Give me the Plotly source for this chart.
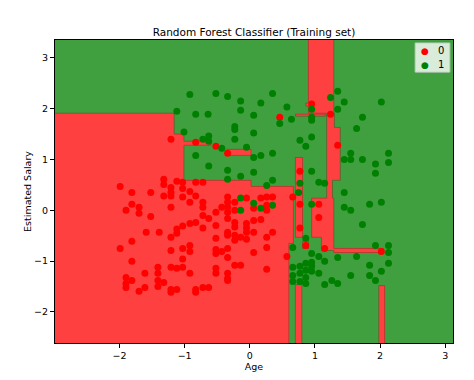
import plotly.graph_objects as go

# ---- axis limits (scaled Age / Estimated Salary) ----
x_min, x_max = -2.99, 3.12
y_min, y_max = -2.61, 3.35

# ---- decision regions predicted as class 0 (red); everything else is class 1 ----
red_x0 = [-2.99, -1.16, -1.01, -1.01, 0.02, 0.60, -0.35, 0.90, 0.86, 0.70, 1.18, 1.18, 1.18, 0.95, 1.10, 1.29, 0.70, 0.81, 0.70, 1.98]
red_x1 = [-1.16, -1.01, -0.60, 0.02, 0.60, 0.67, 0.02, 1.29, 1.16, 1.16, 1.30, 1.39, 1.27, 1.29, 1.29, 2.05, 0.81, 0.90, 0.80, 2.07]
red_y0 = [-2.61, -2.61, 1.28, -2.61, -2.61, -0.65, 1.08, 1.91, 2.05, 1.85, 1.63, 0.59, 0.24, -0.53, -0.79, -0.83, -0.53, -0.75, -2.61, -2.61]
red_y1 = [1.91, 1.50, 1.36, 0.59, 0.47, 0.47, 1.20, 3.35, 2.11, 1.89, 1.91, 1.63, 0.59, 0.24, -0.53, -0.75, 1.04, -0.61, -1.46, -1.48]

# ---- training points ----
green_x = [-0.92, -1.12, -0.83, -0.64, -1.01, -0.72, -0.63, -0.63, -0.83, -0.52, -0.34, 0.35, -0.14, 0.17, 0.57,
           -0.14, 0.06, 0.46, 0.64, -0.23, -0.23, 0.06, -0.23, 0.77, -0.43, -0.05, 0.17, 0.06, 0.35, 1.35,
           1.24, 1.45, 2.02, 0.95, 1.35, 0.95, 0.95, 1.73, 1.64, 0.95, 0.86, 1.55, 2.13, 1.45, 1.55,
           1.73, -0.63, -0.34, -0.34, -0.14, 0.06, 0.35, 0.26, 0.75, -0.14, -0.14, 0.06, 0.17, 0.35,
           1.93, 2.13, 1.93, 0.95, 1.06, 1.15, 0.77, 1.45, 2.02, 1.84, 0.95, 1.45, 1.55, 1.73, 0.66,
           0.66, 0.66, 0.66, 0.77, 0.77, 0.86, 0.95, 1.06, 1.15, 1.35, 1.64, 1.93, 2.13, 2.13, 0.77,
           0.86, 0.95, 0.95, 0.86, 0.95, 1.06, 0.86, 0.86, 1.15, 1.26, 1.35, 1.55, 1.84, 2.02, 2.13,
           1.84, 1.93]
green_y = [2.28, 1.95, 1.89, 1.89, 1.54, 1.40, 1.46, 1.36, 1.08, 2.30, 2.24, 2.30, 2.15, 2.11, 2.03,
           1.97, 1.87, 1.71, 1.79, 1.65, 1.59, 1.52, 1.40, 1.38, 1.22, 1.24, 1.08, 1.04, 1.12, 2.34,
           2.22, 2.13, 2.13, 1.99, 1.99, 1.83, 1.77, 1.83, 1.61, 1.44, 1.26, 1.12, 1.12, 1.00, 1.00,
           1.00, 0.87, 0.79, 0.61, 0.67, 0.75, 0.59, 0.49, 0.35, 0.24, 0.00, 0.14, 0.04, 0.10,
           0.91, 0.94, 0.73, 0.77, 0.55, 0.53, 0.53, 0.35, 0.16, 0.12, 0.12, 0.06, 0.00, -0.28, -0.73,
           -1.12, -1.28, -1.40, -1.24, -1.40, -0.55, -0.85, -0.91, -1.00, -0.93, -0.91, -0.69, -0.69, -0.83, -1.10,
           -1.04, -1.02, -1.10, -1.18, -1.20, -1.24, -1.32, -1.44, -1.46, -1.38, -1.44, -1.28, -1.08, -1.20, -1.04,
           -1.28, -1.38]

red_x = [-1.21, -0.83, 0.46, -0.52, -0.34, 0.95, 1.24, 1.35, -1.99, -1.81, -1.52, -1.32, -1.32, -1.12, -1.21,
         -1.21, -1.21, -1.32, -1.03, -1.03, -0.92, -0.83, -0.72, -0.83, -1.03, -0.92, -0.72, -0.72, -0.72, -1.81,
         -1.70, -1.90, -1.70, -1.21, -1.52, -0.92, -0.83, -1.03, -1.12, -0.72, -1.59, -1.39, -1.12, 0.66, -0.34,
         -0.34, -0.34, -0.34, -0.43, -0.52, -0.23, -0.23, -0.05, 0.06, 0.17, 0.26, 0.35, 0.26, 0.26, -0.63,
         -0.52, -0.34, -0.23, -0.23, -0.05, -0.05, 0.06, 0.06, 0.17, 0.35, 0.77, 0.77, 0.77, 1.06, 1.06,
         -1.21, -1.81, -1.99, -1.21, -1.03, -0.92, -0.92, -1.81, -1.03, -1.41, -1.21, -1.12, -1.03, -0.92, -1.61,
         -1.41, -1.90, -1.81, -1.41, -1.32, -1.90, -1.90, -1.41, -1.61, -1.70, -1.21, -1.21, -1.12, -0.83, -0.83,
         -0.72, -0.63, -0.34, -0.23, -0.34, -0.23, -0.14, -0.05, -0.05, 0.26, -0.52, -0.52, -0.52, -0.43, -0.34,
         -0.34, 0.06, 0.26, 0.57, -0.23, -0.14, 0.26, -0.52, -0.52, -0.34, -0.34, -0.34, 0.86, 1.15, 2.02]
red_y = [1.40, 1.34, 1.83, 1.26, 1.12, 2.09, 1.89, 1.28, 0.47, 0.35, 0.35, 0.61, 0.51, 0.57, 0.45,
         0.35, 0.28, 0.28, 0.55, 0.43, 0.37, 0.55, 0.55, 0.28, 0.26, 0.16, 0.16, 0.06, -0.10, 0.12,
         0.06, 0.00, -0.06, 0.06, -0.12, -0.26, -0.24, -0.31, -0.37, -0.35, -0.43, -0.43, -0.45, 0.26, 0.26,
         0.16, 0.06, -0.04, 0.06, -0.04, 0.16, 0.00, 0.24, 0.04, 0.24, 0.26, 0.26, 0.10, 0.00, -0.16,
         -0.30, -0.16, -0.24, -0.33, -0.26, -0.35, -0.20, -0.43, -0.18, -0.43, -0.35, 0.77, 0.12, 0.12, -0.14,
         -0.53, -0.61, -0.75, -0.79, -0.75, -0.69, -0.81, -1.00, -0.96, -1.12, -1.12, -1.14, -1.12, -1.24, -1.24,
         -1.24, -1.32, -1.38, -1.38, -1.42, -1.44, -1.52, -1.50, -1.52, -1.59, -1.56, -1.61, -1.56, -1.56, -1.61,
         -1.52, -1.52, -0.43, -0.49, -0.49, -0.59, -0.53, -0.57, -0.43, -0.53, -0.55, -0.77, -0.85, -0.81, -0.75,
         -0.93, -0.83, -0.73, -0.91, -1.08, -1.08, -1.16, -1.14, -1.24, -1.24, -1.34, -1.38, -0.69, -0.75, -0.81]

class_labels = ["0", "1"]
class_colors = ["#FF0000", "#008000"]

# ---- build class grid from the region rectangles ----
def clip(v, lo, hi):
    return max(lo, min(hi, v))

xe = sorted(set([x_min, x_max] + [clip(v, x_min, x_max) for v in red_x0 + red_x1]))
ye = sorted(set([y_min, y_max] + [clip(v, y_min, y_max) for v in red_y0 + red_y1]))
rects = list(zip(red_x0, red_x1, red_y0, red_y1))
z = []
for j in range(len(ye) - 1):
    yc = 0.5 * (ye[j] + ye[j + 1])
    row = []
    for i in range(len(xe) - 1):
        xc = 0.5 * (xe[i] + xe[i + 1])
        inside = any(a <= xc <= b and c <= yc <= d for a, b, c, d in rects)
        row.append(0 if inside else 1)
    z.append(row)

# boundary segments between cells of different class
bx, by = [], []
for j in range(len(ye) - 1):
    for i in range(len(xe) - 2):
        if z[j][i] != z[j][i + 1]:
            bx += [xe[i + 1], xe[i + 1], None]
            by += [ye[j], ye[j + 1], None]
for j in range(len(ye) - 2):
    for i in range(len(xe) - 1):
        if z[j][i] != z[j + 1][i]:
            bx += [xe[i], xe[i + 1], None]
            by += [ye[j + 1], ye[j + 1], None]

fig = go.Figure()
fig.add_trace(go.Heatmap(
    x=xe, y=ye, z=z, zmin=0, zmax=1, zsmooth=False, showscale=False, hoverinfo="skip",
    colorscale=[[0, "#FF4040"], [0.5, "#FF4040"], [0.5, "#40A040"], [1, "#40A040"]],
))
fig.add_trace(go.Scatter(x=bx, y=by, mode="lines", line=dict(color="rgba(130,60,40,0.6)", width=1),
                         showlegend=False, hoverinfo="skip"))
fig.add_trace(go.Scatter(x=red_x, y=red_y, mode="markers", name=class_labels[0], showlegend=False,
                         marker=dict(color=class_colors[0], size=7)))
fig.add_trace(go.Scatter(x=green_x, y=green_y, mode="markers", name=class_labels[1], showlegend=False,
                         marker=dict(color=class_colors[1], size=7)))

# ---- compact matplotlib-style legend ----
fig.add_shape(type="rect", xref="paper", yref="paper", x0=0.905, x1=0.992, y0=0.894, y1=0.990,
              fillcolor="rgba(255,255,255,0.8)", line=dict(color="#cccccc", width=1), layer="above")
for k, (lab, col) in enumerate(zip(class_labels, class_colors)):
    yy = 0.965 - k * 0.046
    fig.add_annotation(xref="paper", yref="paper", x=0.930, y=yy, text="●", showarrow=False,
                       font=dict(size=9, color=col), xanchor="center", yanchor="middle")
    fig.add_annotation(xref="paper", yref="paper", x=0.958, y=yy, text=lab, showarrow=False,
                       font=dict(size=10, color="black"), xanchor="left", yanchor="middle")

axis_common = dict(showgrid=False, zeroline=False, showline=True, linecolor="black", linewidth=1,
                   mirror=True, ticks="outside", ticklen=4, tickcolor="black",
                   tickfont=dict(family="DejaVu Sans", size=9.5, color="black"))
fig.update_layout(
    width=474, height=380,
    margin=dict(l=47, r=29, t=32, b=45),
    paper_bgcolor="white", plot_bgcolor="white",
    font=dict(family="DejaVu Sans", color="black"),
    title=dict(text="Random Forest Classifier (Training set)", x=0.5, xref="paper",
               y=1 - 24 / 380, yanchor="middle", font=dict(size=10.5, color="black")),
    xaxis=dict(range=[x_min, x_max], tickvals=[-2, -1, 0, 1, 2, 3],
               title=dict(text="Age", font=dict(size=9.5), standoff=0), **axis_common),
    yaxis=dict(range=[y_min, y_max], tickvals=[-2, -1, 0, 1, 2, 3],
               title=dict(text="Estimated Salary", font=dict(size=9.5), standoff=0), **axis_common),
    showlegend=False,
)
fig.write_html("out.html")
